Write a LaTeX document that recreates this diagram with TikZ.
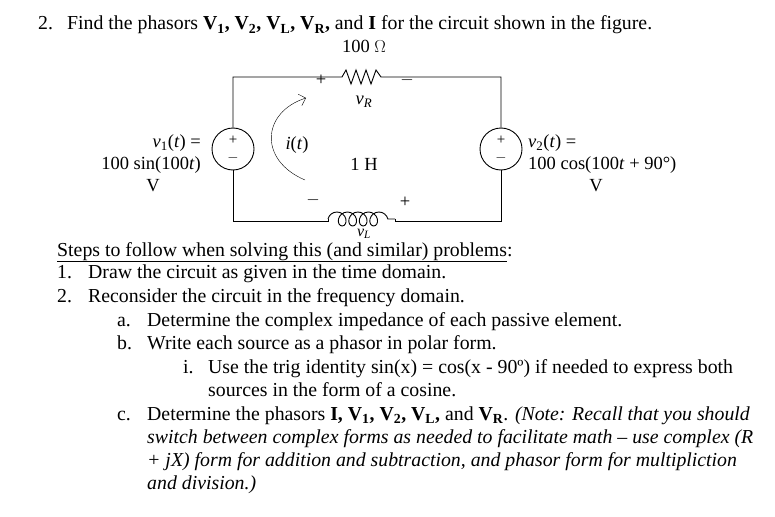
\documentclass[tikz,border=0pt]{standalone}
\usepackage{fontspec}
\setmainfont{Liberation Serif}
\usetikzlibrary{decorations.pathmorphing,arrows.meta}
\begin{document}
\begin{tikzpicture}[x=1pt,y=-1pt,
 txt/.style={anchor=base west,inner sep=0,font=\fontsize{19.8}{22}\selectfont},
 ct/.style={inner sep=0,font=\fontsize{18.5}{20}\selectfont},
 wire/.style={line width=0.9pt}]
\useasboundingbox (0,0) rectangle (775,516);
% circuit
\coordinate (tl) at (233,77); \coordinate (tr) at (501,77);
\coordinate (bl) at (233,221); \coordinate (br) at (501,221);
\node[draw,circle,minimum size=42,line width=0.9pt,inner sep=0] (s1) at (233,149) {};
\node[draw,circle,minimum size=42,line width=0.9pt,inner sep=0] (s2) at (501,149) {};
\node[ct,font=\fontsize{15}{16}\selectfont] (s1p) at (233,140) {+}; \node[ct,font=\fontsize{15}{16}\selectfont] (s1m) at (233,158) {$-$};
\node[ct,font=\fontsize{15}{16}\selectfont] (s2p) at (501,140) {+}; \node[ct,font=\fontsize{15}{16}\selectfont] (s2m) at (501,158) {$-$};
\coordinate (r1) at (342,77); \coordinate (r2) at (381,77);
\coordinate (l1) at (328,219); \coordinate (l2) at (395,219);
\draw[wire] (s1.north) -- (tl) -- (r1) -- ++(4,-7) -- ++(5,14) -- ++(5,-14) -- ++(5,14) -- ++(5,-14) -- ++(5,14) -- ++(5,-14) -- (r2) -- (tr) -- (s2.north);
\draw[wire] (s1.south) -- (bl) -- (328,221) -- (l1);
\draw[wire] (l2) -- (395,221) -- (br) -- (s2.south);
\draw[wire,decorate,decoration={coil,aspect=0.9,segment length=10.5pt,amplitude=7pt}] (l1) -- (l2);
\draw[-{Straight Barb[length=6pt]}] (305,180) .. controls (258,160) and (262,112) .. (306,98);
\node[ct] (vr) at (364,102) {\textit{v}\textsubscript{\textit{R}}};
\node[ct] (rv) at (364,46) {100 $\Omega$};
\node[ct] (rp) at (321,80) {+}; \node[ct] (rm) at (407,80) {$-$};
\node[ct] (it) at (297,145) {\textit{i}(\textit{t})};
\node[ct] (lh) at (364,164) {1 H};
\node[ct] (lm) at (313,200) {$-$}; \node[ct] (lp) at (405,202) {+};
\node[ct,font=\fontsize{16}{17}\selectfont] (vl) at (364,234) {\textit{v}\textsubscript{\textit{L}}};
\node[ct,anchor=east] (v1a) at (201,143) {\textit{v}\textsubscript{1}(\textit{t}) =};
\node[ct,anchor=east] (v1b) at (201,165) {100 sin(100\textit{t})};
\node[ct] (v1c) at (153,186) {V};
\node[ct,anchor=west] (v2a) at (528,143) {\textit{v}\textsubscript{2}(\textit{t}) =};
\node[ct,anchor=west] (v2b) at (528,165) {100 cos(100\textit{t} + 90°)};
\node[ct] (v2c) at (596,186) {V};
% text
\node[txt] (q0) at (38,30) {2.};
\node[txt] (q1) at (67,30) {Find the phasors \textbf{V\textsubscript{1}, V\textsubscript{2}, V\textsubscript{L}, V\textsubscript{R},} and \textbf{I} for the circuit shown in the figure.};
\node[txt] (st) at (57,256) {\underline{Steps to follow when solving this (and similar) problems}:};
\node[txt] (n1) at (57,278) {1.}; \node[txt] (t1) at (88,278) {Draw the circuit as given in the time domain.};
\node[txt] (n2) at (57,302) {2.}; \node[txt] (t2) at (88,302) {Reconsider the circuit in the frequency domain.};
\node[txt] (na) at (117,326) {a.}; \node[txt] (ta) at (147,326) {Determine the complex impedance of each passive element.};
\node[txt] (nb) at (117,349) {b.}; \node[txt] (tb) at (147,349) {Write each source as a phasor in polar form.};
\node[txt] (ni) at (183,373) {i.}; \node[txt] (ti) at (208,373) {Use the trig identity sin(x) = cos(x - 90º) if needed to express both};
\node[txt] (ti2) at (208,396) {sources in the form of a cosine.};
\node[txt] (nc) at (117,420) {c.}; \node[txt] (tc) at (147,420) {Determine the phasors \textbf{I, V\textsubscript{1}, V\textsubscript{2}, V\textsubscript{L},} and \textbf{V\textsubscript{R}}. \textit{(Note: Recall that you should}};
\node[txt] (tc2) at (147,443) {\textit{switch between complex forms as needed to facilitate math – use complex (R}};
\node[txt] (tc3) at (147,466) {\textit{+ jX) form for addition and subtraction, and phasor form for multipliction}};
\node[txt] (tc4) at (147,489) {\textit{and division.)}};
\end{tikzpicture}
\end{document}
